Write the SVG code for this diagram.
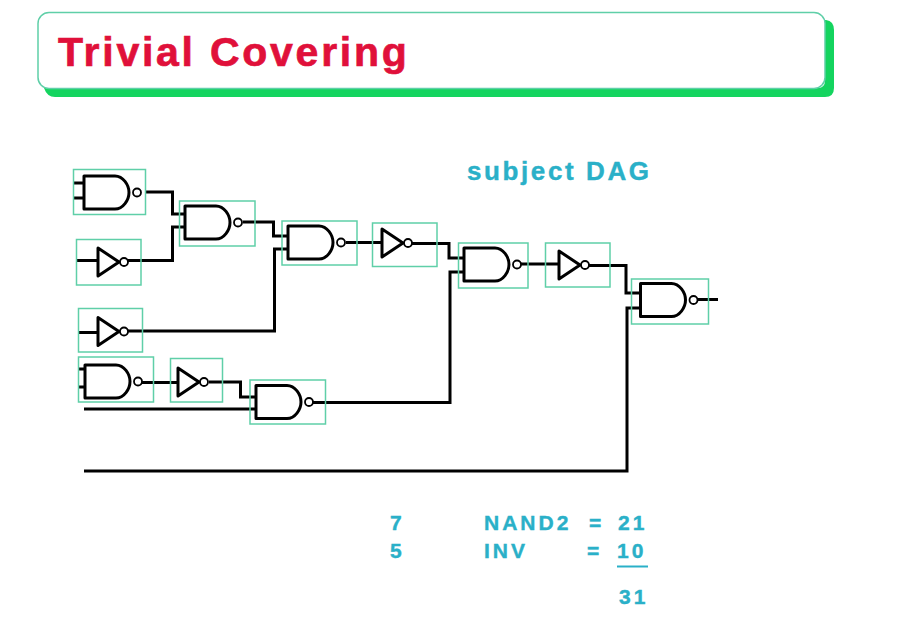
<svg xmlns="http://www.w3.org/2000/svg" xmlns:xlink="http://www.w3.org/1999/xlink" width="913" height="635" viewBox="0 0 913 635">
<style>
.box{fill:none;stroke:#5fcfa8;stroke-width:1.5}
.wire{fill:none;stroke:#000;stroke-width:3}
.gate{fill:none;stroke:#000;stroke-width:3;stroke-linejoin:round}
.bub{fill:#fff;stroke:#000;stroke-width:1.8}
.t{font-family:"Liberation Sans",Arial,sans-serif;font-weight:700;fill:#2ab0c8;stroke:#2ab0c8;stroke-width:.4;font-size:21px;letter-spacing:3px}
</style>
<defs>
<g id="nand"><path class="gate" d="M0 0H31C39 0 45 9 45 16.500C45 24 39 33 31 33H0Z"/><circle class="bub" cx="53" cy="16.500" r="4"/></g>
<g id="inv"><path class="gate" d="M0 0V28L21 14Z"/><circle class="bub" cx="26" cy="14" r="4"/></g>
</defs>
<rect width="913" height="635" fill="#fff"/>
<g id="title">
<path d="M48 88H818Q825 88 825 80V20H826Q834 21 834 30V88Q834 97 825 97H55Q47 97 44 88Z" fill="#14d45f"/>
<rect x="38" y="12.500" width="787" height="76" rx="11" fill="#fff" stroke="#5fcfa8" stroke-width="1.500"/>
<text x="58" y="66" font-family="'Liberation Sans',Arial,sans-serif" font-weight="700" font-size="41" letter-spacing="2.750" fill="#e0103a" stroke="#e0103a" stroke-width=".7">Trivial Covering</text>
</g>
<g id="connectors">
<path class="wire" d="M145 192H172.500V214H184M125 260.500H172.500V227H184"/>
<path class="wire" d="M74 183H84M74 198H84M77 260.500H98M79 332.500H98M78 369H85M78 387H85"/>
<path class="wire" d="M128 331H274.500V249H287M243 222H273.500V236H287"/>
<path class="wire" d="M141 382.500H178M209 382H240.500V397H255M84 409H255"/>
<path class="wire" d="M346 242.500H382M412 243.500H449V258H464M311 402.500H450V272H464"/>
<path class="wire" d="M521 264H559M587 265.500H626V293H640M84 471H627V308H640M695 299.500H718"/>
</g>
<g id="n1"><rect class="box" x="73.500" y="169.500" width="72" height="45"/><use xlink:href="#nand" href="#nand" x="84" y="176"/></g>
<g id="n2"><rect class="box" x="179.500" y="201" width="75.500" height="45"/><use xlink:href="#nand" href="#nand" x="185" y="206"/></g>
<g id="n3"><rect class="box" x="282" y="221" width="75" height="44"/><use xlink:href="#nand" href="#nand" x="288" y="226"/></g>
<g id="i1"><rect class="box" x="76.500" y="239.500" width="64.500" height="45.500"/><use xlink:href="#inv" href="#inv" x="98" y="248"/></g>
<g id="i2"><rect class="box" x="78.500" y="308.500" width="64" height="43.500"/><use xlink:href="#inv" href="#inv" x="98" y="317.500"/></g>
<g id="n4"><rect class="box" x="78.500" y="357" width="75" height="45"/><use xlink:href="#nand" href="#nand" x="85" y="365"/></g>
<g id="i3"><rect class="box" x="170.500" y="358.500" width="52" height="43.500"/><use xlink:href="#inv" href="#inv" x="178" y="368"/></g>
<g id="n5"><rect class="box" x="250" y="380" width="75.500" height="44"/><use xlink:href="#nand" href="#nand" x="256" y="385.500"/></g>
<g id="i4"><rect class="box" x="372.500" y="223" width="64.500" height="43.500"/><use xlink:href="#inv" href="#inv" x="382" y="229"/></g>
<g id="n6"><rect class="box" x="458.500" y="243" width="69.500" height="45"/><use xlink:href="#nand" href="#nand" x="464" y="248"/></g>
<g id="i5"><rect class="box" x="545.500" y="243" width="64.500" height="44"/><use xlink:href="#inv" href="#inv" x="559" y="251"/></g>
<g id="n7"><rect class="box" x="631.500" y="279" width="77" height="45"/><use xlink:href="#nand" href="#nand" x="640.500" y="283.500"/></g>
<text class="t" x="467" y="180" style="font-size:26px;letter-spacing:2.600px">subject DAG</text>
<text class="t" x="390" y="530">7</text>
<text class="t" x="484" y="530">NAND2</text>
<text class="t" x="589" y="530">=</text>
<text class="t" x="618" y="530">21</text>
<text class="t" x="390" y="558">5</text>
<text class="t" x="484" y="558">INV</text>
<text class="t" x="587" y="558">=</text>
<text class="t" x="617" y="558">10</text>
<path d="M617 566.500H648" stroke="#2ab0c8" stroke-width="2" fill="none"/>
<text class="t" x="619" y="604">31</text>
</svg>
